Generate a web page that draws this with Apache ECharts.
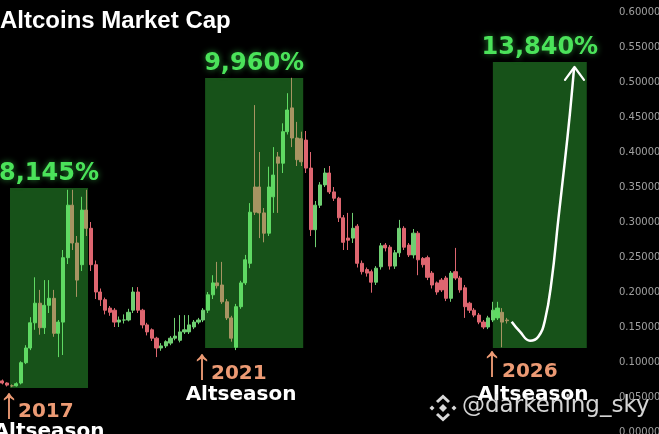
<!DOCTYPE html>
<html><head><meta charset="utf-8">
<script src="https://cdn.jsdelivr.net/npm/echarts@6/dist/echarts.min.js"></script>
<style>html,body{margin:0;padding:0;background:#000;overflow:hidden}#c{width:659px;height:434px;}</style>
</head><body><div id="c"></div>
<script>
// ---- data ----
const opens  = [0.073,0.070,0.066,0.066,0.070,0.099,0.120,0.156,0.184,0.149,0.181,0.191,0.141,0.157,0.249,0.324,0.270,0.239,0.317,0.291,
  0.239,0.200,0.189,0.177,0.174,0.157,0.160,0.160,0.174,0.200,0.174,0.153,0.146,0.134,0.120,0.123,0.127,0.134,0.131,0.143,
  0.143,0.150,0.157,0.160,0.174,0.196,0.213,0.210,0.186,0.163,0.121,0.179,0.213,0.241,0.350,0.350,0.313,0.284,0.336,0.393,
  0.384,0.429,0.463,0.420,0.419,0.417,0.377,0.289,0.324,0.353,0.370,0.343,0.334,0.306,0.277,0.277,0.294,0.241,0.232,0.229,
  0.214,0.236,0.267,0.264,0.237,0.256,0.291,0.267,0.253,0.284,0.248,0.249,0.227,0.213,0.217,0.220,0.191,0.229,0.220,0.206,
  0.184,0.174,0.167,0.157,0.150,0.160,0.163,0.171,0.160];
const closes = [0.070,0.067,0.066,0.069,0.099,0.120,0.156,0.184,0.149,0.181,0.191,0.141,0.157,0.249,0.324,0.270,0.217,0.317,0.291,0.239,
  0.200,0.189,0.174,0.171,0.157,0.160,0.160,0.171,0.200,0.174,0.153,0.143,0.134,0.120,0.123,0.129,0.134,0.137,0.143,0.146,
  0.153,0.157,0.160,0.174,0.196,0.213,0.209,0.186,0.163,0.134,0.179,0.213,0.246,0.314,0.314,0.313,0.284,0.350,0.367,0.384,
  0.429,0.460,0.420,0.389,0.386,0.377,0.289,0.324,0.353,0.370,0.343,0.334,0.306,0.271,0.274,0.291,0.241,0.229,0.227,0.214,
  0.234,0.266,0.263,0.237,0.256,0.291,0.264,0.253,0.284,0.246,0.239,0.221,0.210,0.200,0.203,0.191,0.227,0.220,0.203,0.179,
  0.174,0.167,0.157,0.150,0.163,0.174,0.177,0.157,0.159];
const lows   = [0.068,0.065,0.064,0.065,0.068,0.097,0.117,0.146,0.139,0.140,0.170,0.136,0.107,0.110,0.240,0.260,0.193,0.230,0.280,0.230,
  0.190,0.180,0.168,0.166,0.150,0.150,0.155,0.158,0.170,0.170,0.148,0.138,0.130,0.107,0.116,0.120,0.124,0.131,0.128,0.140,
  0.140,0.147,0.154,0.157,0.170,0.190,0.205,0.183,0.160,0.129,0.117,0.176,0.210,0.234,0.310,0.277,0.271,0.280,0.313,0.313,
  0.370,0.425,0.407,0.380,0.380,0.370,0.280,0.264,0.320,0.350,0.340,0.330,0.300,0.260,0.260,0.270,0.235,0.225,0.222,0.199,
  0.210,0.232,0.258,0.232,0.233,0.250,0.260,0.250,0.248,0.224,0.235,0.217,0.205,0.196,0.200,0.187,0.186,0.217,0.199,0.163,
  0.170,0.164,0.154,0.147,0.147,0.157,0.160,0.121,0.155];
const highs  = [0.075,0.071,0.068,0.071,0.101,0.124,0.164,0.221,0.203,0.217,0.217,0.203,0.160,0.260,0.346,0.346,0.280,0.336,0.346,0.300,
  0.245,0.205,0.192,0.180,0.177,0.165,0.168,0.176,0.207,0.207,0.176,0.156,0.148,0.136,0.127,0.131,0.137,0.163,0.167,0.167,
  0.167,0.160,0.163,0.177,0.200,0.224,0.243,0.243,0.190,0.166,0.183,0.216,0.253,0.327,0.467,0.400,0.320,0.379,0.407,0.400,
  0.441,0.484,0.506,0.443,0.429,0.430,0.400,0.330,0.357,0.377,0.380,0.350,0.336,0.310,0.313,0.313,0.297,0.245,0.235,0.232,
  0.237,0.270,0.270,0.267,0.260,0.303,0.294,0.270,0.290,0.287,0.250,0.252,0.230,0.215,0.220,0.223,0.230,0.263,0.223,0.210,
  0.186,0.177,0.170,0.160,0.166,0.186,0.186,0.177,0.163];
const slotCount = 131;               // weekly slots incl. room for the projection
const seasonGains   = ['8,145%', '9,960%', '13,840%'];
const seasonYears   = ['2017', '2021', '2026'];
const seasonFrom    = [1.64, 43.4, 105.0];   // slot units
const seasonTo      = [18.34, 64.4, 125.1];
const seasonHigh    = [0.3486, 0.5057, 0.5286];
const seasonLow     = [0.0629, 0.120, 0.120];
const projSlot  = [109.03, 110.8, 112.95, 114.72, 116.16, 117.59, 119.0, 120.44, 121.5, 122.36];
const projValue = [0.1576, 0.1433, 0.1304, 0.1361, 0.1600, 0.2171, 0.3029, 0.3886, 0.4557, 0.5186];
const headSlot  = [120.44, 122.47, 124.5];
const headValue = [0.503, 0.5214, 0.503];
const yMin = 0, yMax = 0.6, yStep = 0.05;

// ---- chart ----
const periods = Array.from({length: slotCount}, (_, i) => 'W' + (i + 1));
const candles = opens.map((o, i) => [o, closes[i], lows[i], highs[i]]);

const GREEN_TXT = '#4be35a', ORANGE = '#ec9a74';
const boxAreas = seasonGains.map((g, k) => [
  {xAxis: seasonFrom[k], yAxis: seasonHigh[k], name: g},
  {xAxis: seasonTo[k], yAxis: seasonLow[k]}
]);

const chart = echarts.init(document.getElementById('c'), null, {renderer: 'canvas'});
const txt = (text, x, y, font, fill, align) => ({
  type: 'text', x, y, z: 100,
  style: {text, font, fill, align: align || 'left', textAlign: align || 'left', verticalAlign: 'middle', textVerticalAlign: 'middle'}
});
const yearFont = 'bold 20px "DejaVu Sans"';
const arrowFont = '44px "Liberation Sans"';
chart.setOption({
  backgroundColor: '#000',
  animation: false,
  grid: {left: 0, right: 47, top: 12, bottom: 2, containLabel: false, outerBoundsMode: 'none'},
  xAxis: [
    {type: 'category', data: periods, show: false, boundaryGap: true},
    {type: 'value', min: -0.5, max: slotCount - 0.5, show: false}
  ],
  yAxis: {
    type: 'value', position: 'right', min: yMin, max: yMax, interval: yStep,
    axisLine: {show: false}, axisTick: {show: false}, splitLine: {show: false},
    axisLabel: {margin: 7, color: '#a0a0a0', fontSize: 10, fontFamily: 'DejaVu Sans',
      formatter: v => v.toFixed(5)}
  },
  series: [
    {
      type: 'candlestick', xAxisIndex: 0, data: candles, z: 2, barWidth: 3.6,
      itemStyle: {color: '#6fcf72', color0: '#de6670', borderColor: '#6fcf72', borderColor0: '#de6670', borderWidth: 1}
    },
    {
      type: 'line', xAxisIndex: 1, data: [], z: 3, silent: true,
      markArea: {
        z: 3, silent: true,
        itemStyle: {color: 'rgba(66,234,71,0.35)'},
        label: {show: true, position: 'top', distance: 2, color: GREEN_TXT, fontFamily: 'DejaVu Sans',
          fontWeight: 'bold', fontSize: 24, textShadowColor: 'rgba(70,230,90,0.55)', textShadowBlur: 6},
        data: boxAreas
      }
    },
    {
      type: 'line', xAxisIndex: 1, z: 6, smooth: 0.45, symbol: 'none', silent: true,
      lineStyle: {color: '#fff', width: 2.5},
      data: projSlot.map((s, i) => [s, projValue[i]])
    },
    {
      type: 'line', xAxisIndex: 1, z: 6, smooth: false, symbol: 'none', silent: true,
      lineStyle: {color: '#fff', width: 2.2, cap: 'round', join: 'round'},
      data: headSlot.map((s, i) => [s, headValue[i]])
    }
  ],
  graphic: [
    txt('Altcoins Market Cap', 0, 21, 'bold 24px "Liberation Sans"', '#ffffff'),
    txt('↑', 9, 406, arrowFont, ORANGE, 'center'),
    txt(seasonYears[0], 18, 412, yearFont, ORANGE),
    txt('Altseason', 49, 432, yearFont, '#ffffff', 'center'),
    txt('↑', 202, 367, arrowFont, ORANGE, 'center'),
    txt(seasonYears[1], 211, 374, yearFont, ORANGE),
    txt('Altseason', 241, 395, yearFont, '#ffffff', 'center'),
    txt('↑', 492, 364, arrowFont, ORANGE, 'center'),
    txt(seasonYears[2], 502, 372, yearFont, ORANGE),
    txt('Altseason', 533, 395, yearFont, '#ffffff', 'center'),
    // watermark
    {type: 'polygon', z: 99, shape: {points: [[443,404],[447,408],[443,412],[439,408]]}, style: {fill: '#d8d8d8'}},
    {type: 'polygon', z: 99, shape: {points: [[432,405.5],[434.5,408],[432,410.5],[429.5,408]]}, style: {fill: '#d8d8d8'}},
    {type: 'polygon', z: 99, shape: {points: [[454,405.5],[456.5,408],[454,410.5],[451.5,408]]}, style: {fill: '#d8d8d8'}},
    {type: 'polyline', z: 99, shape: {points: [[437,402],[443,396.5],[449,402]]}, style: {stroke: '#d8d8d8', lineWidth: 3, fill: null}},
    {type: 'polyline', z: 99, shape: {points: [[437,414],[443,419.5],[449,414]]}, style: {stroke: '#d8d8d8', lineWidth: 3, fill: null}},
    txt('@darkening_sky', 462, 406, '23px "DejaVu Sans"', 'rgba(235,235,235,0.9)')
  ]
});
</script>
</body></html>
